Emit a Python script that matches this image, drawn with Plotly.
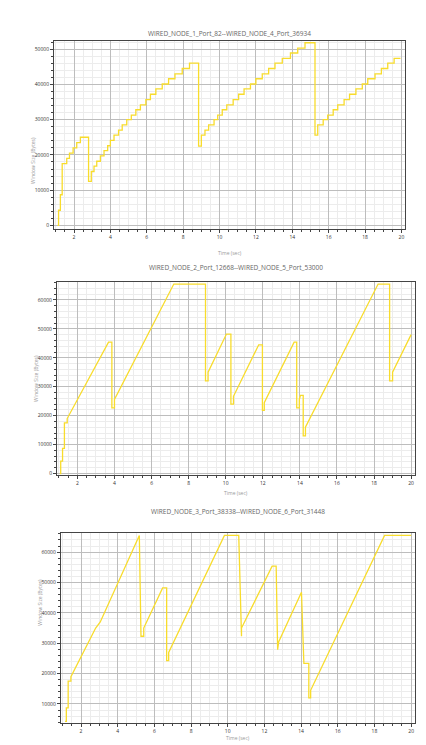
import plotly.graph_objects as go

titles = ["WIRED_NODE_1_Port_82--WIRED_NODE_4_Port_36934",
          "WIRED_NODE_2_Port_12668--WIRED_NODE_5_Port_53000",
          "WIRED_NODE_3_Port_38338--WIRED_NODE_6_Port_31448"]

# Chart 1 (step data, hv)
t1 = [1.1,1.15,1.25,1.35,1.6,1.75,1.95,2.15,2.35,2.8,2.95,3.1,3.25,3.45,3.65,3.85,4.0,4.2,4.45,4.65,4.9,5.15,5.4,5.65,5.95,
      6.2,6.5,6.85,7.2,7.55,7.95,8.35,8.85,9.0,9.2,9.4,9.7,9.9,10.15,10.4,10.75,11.05,11.35,11.7,12.0,12.35,12.7,13.05,13.45,
      13.9,14.3,14.7,15.25,15.4,15.7,15.95,16.25,16.5,16.85,17.15,17.5,17.85,18.15,18.55,18.9,19.25,19.6,19.95]
w1 = [0,4300,8700,17500,19000,20500,22000,23500,25000,12500,15300,16800,18200,19700,21200,22600,24100,25600,27000,28500,30000,
      31300,32800,34200,35700,37200,38700,40100,41600,43000,44500,46000,22500,25600,27000,28500,30000,31300,32800,34200,35700,
      37200,38700,40100,41600,43000,44500,46000,47400,48900,50300,51800,25600,28500,30000,31300,32800,34200,35700,37200,38700,
      40100,41600,43000,44500,46000,47400,47400]

# Chart 2 (vertices)
t2 = [1.05,1.1,1.1,1.2,1.2,1.3,1.3,1.45,1.45,3.68,3.86,3.86,4.0,4.0,7.2,8.91,8.91,9.05,9.05,10.04,10.28,10.28,10.42,10.42,
      11.78,11.98,11.98,12.08,12.08,13.69,13.83,13.83,13.97,13.97,14.03,14.18,14.18,14.3,14.3,18.22,18.84,18.84,19.0,19.0,20.0]
w2 = [0,0,4300,4300,8700,8700,17500,17500,19000,45400,45400,22700,22700,25600,65500,65500,32000,32000,35000,48200,48200,
      24000,24000,26700,44500,44500,21800,21800,24500,45400,45400,22700,22700,25600,27000,27000,13000,13000,16000,65500,65500,
      32000,32000,35000,48000]

# Chart 3 (vertices)
t3 = [1.13,1.2,1.2,1.3,1.3,1.45,1.45,2.8,3.05,5.18,5.27,5.42,5.42,6.45,6.67,6.67,6.78,6.78,9.82,10.6,10.75,10.75,12.42,
      12.64,12.72,12.78,14.02,14.15,14.42,14.42,14.52,14.52,18.55,20.0]
w3 = [4300,4300,8700,8700,17500,17500,19000,35000,37000,65500,32300,32300,35000,48200,48200,24300,24300,27000,65500,65500,
      32300,35000,55400,55400,27900,30500,46800,23400,23400,12000,12000,14500,65500,65500]

series = [(t1, w1, "hv"), (t2, w2, "linear"), (t3, w3, "linear")]
xdom = [[0.108, 0.932], [0.115, 0.955], [0.124, 0.955]]
ydom = [[0.7034, 0.9557], [0.3732, 0.6322], [0.0403, 0.2953]]
yr = [[-1000, 52300], [-500, 66200], [3750, 66300]]
title_y = [19, 260, 510]
xt_y = [240, 485, 735]

fig = go.Figure()
ann = []
for i, (t, w, shp) in enumerate(series):
    sx = "" if i == 0 else str(i + 1)
    fig.add_trace(go.Scatter(x=t, y=w, mode="lines", line=dict(color="#F8DC2C", width=1.3, shape=shp),
                             xaxis="x" + sx, yaxis="y" + sx, showlegend=False))
    ax = dict(domain=xdom[i], range=[0.9, 20.2], dtick=2, showgrid=True, gridcolor="#bdbdbd", gridwidth=1,
              minor=dict(dtick=0.5, showgrid=True, gridcolor="#ececec", ticks="outside", ticklen=2),
              ticks="outside", ticklen=3, showline=True, linecolor="#444", mirror=True, zeroline=False,
              tickfont=dict(size=5, color="#333"), anchor="y" + sx)
    ay = dict(domain=ydom[i], range=yr[i], dtick=10000, tickformat="d", showgrid=True, gridcolor="#bdbdbd",
              minor=dict(dtick=2000, showgrid=True, gridcolor="#ececec", ticks="outside", ticklen=2),
              ticks="outside", ticklen=3, showline=True, linecolor="#444", mirror=True, zeroline=False,
              tickfont=dict(size=5, color="#333"), anchor="x" + sx)
    fig.update_layout(**{"xaxis" + sx: ax, "yaxis" + sx: ay})
    ann.append(dict(text=titles[i], x=sum(xdom[i]) / 2, y=1 - title_y[i] / 745, xref="paper", yref="paper",
                    showarrow=False, font=dict(size=6.5, color="#666")))
    ann.append(dict(text="Time (sec)", x=sum(xdom[i]) / 2, y=1 - xt_y[i] / 745, xref="paper", yref="paper",
                    showarrow=False, font=dict(size=5, color="#999")))
    ann.append(dict(text="Window Size (Bytes)", x=xdom[i][0] - 0.06, y=sum(ydom[i]) / 2, xref="paper",
                    yref="paper", textangle=-90, showarrow=False, font=dict(size=5, color="#999")))

fig.update_layout(width=426, height=745, margin=dict(l=0, r=0, t=0, b=0), paper_bgcolor="white",
                  plot_bgcolor="white", font=dict(family="Open Sans"), annotations=ann)
fig.write_html("out.html")
